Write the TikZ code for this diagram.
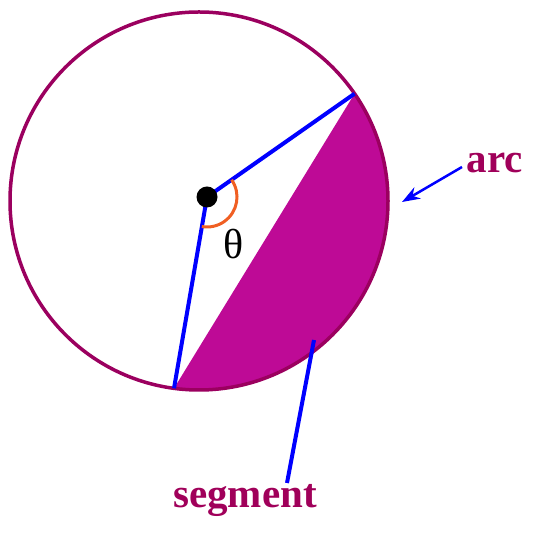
\documentclass[tikz,border=0pt]{standalone}
\usepackage{fontspec}
\setmainfont{Liberation Serif}
\usepackage{tikz}
\usetikzlibrary{calc}
\usetikzlibrary{arrows.meta}
\definecolor{rimcol}{RGB}{155,0,95}
\definecolor{segcol}{RGB}{190,10,150}
\definecolor{angcol}{RGB}{240,95,35}
\definecolor{labcol}{RGB}{160,0,90}
\tikzset{
  radius line/.style={blue,line width=4pt},
  label text/.style={text=labcol,font=\fontsize{41}{45}\selectfont\bfseries,inner sep=0pt}
}
\begin{document}
\begin{tikzpicture}[x=1pt,y=1pt]
			\useasboundingbox (0,0) rectangle (536,537);
			% circle centre and radius
			\coordinate (O) at (199,336);
			\def\r{189}
			% chord end points on the circle
			\coordinate (A) at ($(O)+(34.6:\r)$);
			\coordinate (B) at ($(O)+(-97.6:\r)$);
			% Shade the segment between chord and arc
			\fill[segcol] (A) arc[start angle=34.6, end angle=-97.6, radius=\r] -- cycle;
			% Draw the circle
			\draw[rimcol,line width=3.5pt] (O) circle[radius=\r];
			
			% radii to the chord ends
			\coordinate (ctrpt) at (207,340);
			\draw[radius line] (ctrpt) -- (A);
			\draw[radius line] (ctrpt) -- (B);
			\node[circle,fill=black,minimum size=21pt,inner sep=0pt] (ctr) at (ctrpt) {};
			% angle mark and theta
			\draw[angcol,line width=3pt] ($(ctr.center)+(35:30)$) arc[start angle=35, end angle=-100, radius=30];
			\node (theta) at (234,293) {\fontsize{42}{46}\selectfont θ};
			
			% labels
			\node[label text,anchor=base] (arc) at (495,364) {arc};
			\node[label text,anchor=base] (segment) at (245,29) {segment};
			% pointer to the arc
			\coordinate (arcfrom) at (462,370);
			\coordinate (arcto) at (402,335);
			\draw[-{Stealth[length=18pt,width=13pt]},blue,line width=2.5pt] (arcfrom) -- (arcto);
			% pointer to the segment
			\coordinate (segin) at (314,197);
			\coordinate (segout) at (287,54);
			\draw[blue,line width=4pt] (segin) -- (segout);
			
			\end{tikzpicture}
\end{document}
